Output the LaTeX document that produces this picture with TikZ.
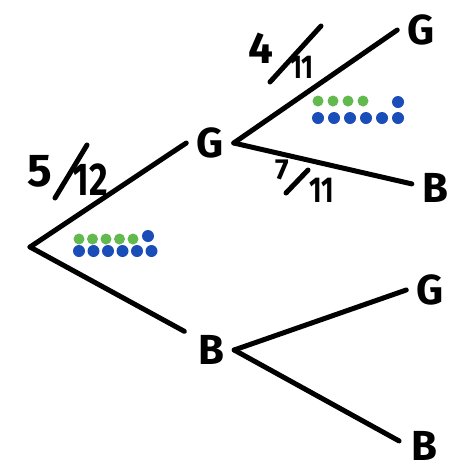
\documentclass[tikz,border=0pt]{standalone}
\usepackage{fontspec}
\usepackage{graphicx}
\setmainfont{Fira Sans}
\usetikzlibrary{positioning}
\definecolor{ink}{HTML}{000000}
\definecolor{grn}{HTML}{62BA4E}
\definecolor{blu}{HTML}{1B4DB8}
\begin{document}
\begin{tikzpicture}[x=1pt,y=-1pt,line cap=round,
  branch/.style={draw=ink,line width=5pt},
  fracbar/.style={draw=ink,line width=5pt},
  outcome/.style={font=\fontsize{42}{42}\selectfont\bfseries,inner ysep=2pt,inner xsep=10pt},
  prob/.style={font=\fontsize{#1}{#1}\selectfont\bfseries,inner sep=0pt}]
\useasboundingbox (0,0) rectangle (474,472);
\coordinate (r) at (30,247);
\node[outcome] (g1) at (210,143) {G};
\node[outcome] (b1) at (211,350) {B};
\node[outcome] (gg) at (421,30) {G};
\node[outcome] (gb) at (435,188) {B};
\node[outcome] (bg) at (430,290) {G};
\node[outcome] (bb) at (424,446) {B};
\draw[branch] (r) -- (g1.west);
\draw[branch,shorten >=4pt] (r) -- (b1.north west);
\draw[branch] (g1.east) -- (gg.west);
\draw[branch] (g1.east) -- (gb.170);
\draw[branch] (b1.east) -- (bg.west);
\draw[branch,shorten >=2pt] (b1.east) -- (bb.170);
% 5/12
\node[prob=46] (p1n) at (40,171) {5};
\node[prob=46] (p1d) at (90,180) {\scalebox{0.78}[1]{12}};
\coordinate (p1a) at (55,198);
\coordinate (p1b) at (87,145);
\draw[fracbar] (p1a) -- (p1b);
% 4/11
\node[prob=44] (p2n) at (261,48) {4};
\node[prob=33] (p2d) at (302,67) {\scalebox{0.78}[1]{11}};
\coordinate (p2a) at (270,82);
\coordinate (p2b) at (321,26);
\draw[fracbar] (p2a) -- (p2b);
% 7/11
\node[prob=29] (p3n) at (282,170) {7};
\node[prob=36] (p3d) at (322,190) {\scalebox{0.75}[1]{11}};
\coordinate (p3a) at (286,193);
\coordinate (p3b) at (308,170);
\draw[fracbar] (p3a) -- (p3b);
% counters in the bag
\foreach \i in {0,...,4} \fill[grn] (79+13.5*\i,239) circle (5.5);
\fill[blu] (148,236) circle (6);
\foreach \i in {0,...,5} \fill[blu] (79+14.5*\i,251) circle (6);
\foreach \i in {0,...,3} \fill[grn] (318+15*\i,101) circle (5.5);
\fill[blu] (398,102) circle (6);
\foreach \i in {0,...,5} \fill[blu] (318+16*\i,118) circle (6);
\end{tikzpicture}
\end{document}
